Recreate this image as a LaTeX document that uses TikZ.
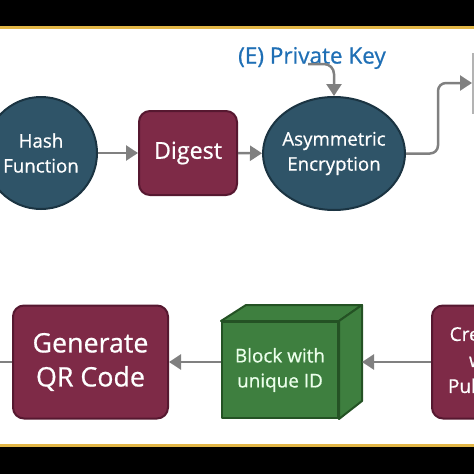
\documentclass[tikz,border=0pt]{standalone}
\usepackage{fontspec}
\setmainfont{Open Sans}[RawFeature={embolden=0.7}]
\usetikzlibrary{positioning, shapes.geometric, arrows.meta}

\definecolor{hashblue}{HTML}{2F5468}
\definecolor{hashline}{HTML}{1B3442}
\definecolor{boxred}{HTML}{7E2A47}
\definecolor{boxline}{HTML}{561830}
\definecolor{blockgreen}{HTML}{3E7F3F}
\definecolor{blockline}{HTML}{245224}
\definecolor{keyblue}{HTML}{1F6FB5}
\definecolor{flowgray}{HTML}{808080}
\definecolor{bandgold}{HTML}{E2B646}

\begin{document}
\begin{tikzpicture}[x=1pt, y=-1pt,
    flow/.style={draw=flowgray, line width=2.5pt, -{Triangle[length=12pt, width=15pt]}},
    roundnode/.style={fill=hashblue, draw=hashline, line width=2pt, text=white, align=center,
                      font=\fontsize{18.7}{25}\selectfont},
    redbox/.style={rectangle, rounded corners=11pt, fill=boxred, draw=boxline, line width=2pt,
                   text=white, align=center},
    blockface/.style={fill=blockgreen, draw=blockline, line width=2pt, line join=round}]
                    \useasboundingbox (0,0) rectangle (474,474);
                    \clip (0,0) rectangle (474,474);

                    % bands
                    \fill [black] (0,0) rectangle (474,26);
                    \fill [black] (0,447) rectangle (474,474);
                    \draw [bandgold, line width=3pt] (0,27.5) -- (474,27.5);
                    \draw [bandgold, line width=3pt] (0,445.5) -- (474,445.5);

                    % top row
                    \node [roundnode, circle, minimum size=112pt] (hash) at (41,153) {Hash\\Function};
                    \node [redbox, minimum width=98pt, minimum height=84pt,
                           font=\fontsize{23.3}{28}\selectfont] (digest) at (188,153) {Digest};
                    \node [roundnode, ellipse, inner xsep=-4pt, minimum width=142pt, minimum height=113pt] (enc) at (334,153.5) {Asymmetric\\Encryption};
                    \node [text=keyblue, font=\fontsize{22.5}{26}\selectfont] (key) at (312,58) {(E) Private Key};
                    \node [draw=flowgray!60, line width=2pt, minimum width=94pt, minimum height=59pt] (sig) at (520,83) {};
                    \coordinate (keyout) at (308,64);

                    \draw [flow] (hash) -- (digest);
                    \draw [flow] (digest) -- (enc);
                    \draw [flow, rounded corners=10pt] (keyout) -| (enc.north);
                    \draw [flow, rounded corners=8pt] (enc.east) -- ++(32,0) |- (sig.west);

                    % bottom row
                    \node [redbox, minimum width=155pt, minimum height=113pt,
                           font=\fontsize{26.8}{34}\selectfont] (qr) at (90.5,362) {Generate\\QR Code};
                    \node [blockface, rectangle, minimum width=116pt, minimum height=96pt, text=green!8,
                           align=center, font=\fontsize{18.9}{25}\selectfont] (block) at (280,370) {Block with\\unique ID};
                    \draw [blockface] (block.north west) -- ++(25,-16) -- ++(116,0) coordinate (blockback)
                          -- (block.north east) -- cycle;
                    \draw [blockface] (block.north east) -- (blockback) -- ++(0,96) -- (block.south east) -- cycle;
                    \node [redbox, minimum width=146pt, minimum height=113pt,
                           font=\fontsize{19}{26}\selectfont] (create) at (505,362) {Create Block\\with the\\Public Key ID};
                    \coordinate (out) at (-30,362);

                    \draw [flow] (create.west) -- (create.west -| blockback);
                    \draw [flow] (block.west |- qr.east) -- (qr.east);
                    \draw [flow] (qr.west) -- (out);
                \end{tikzpicture}
\end{document}
